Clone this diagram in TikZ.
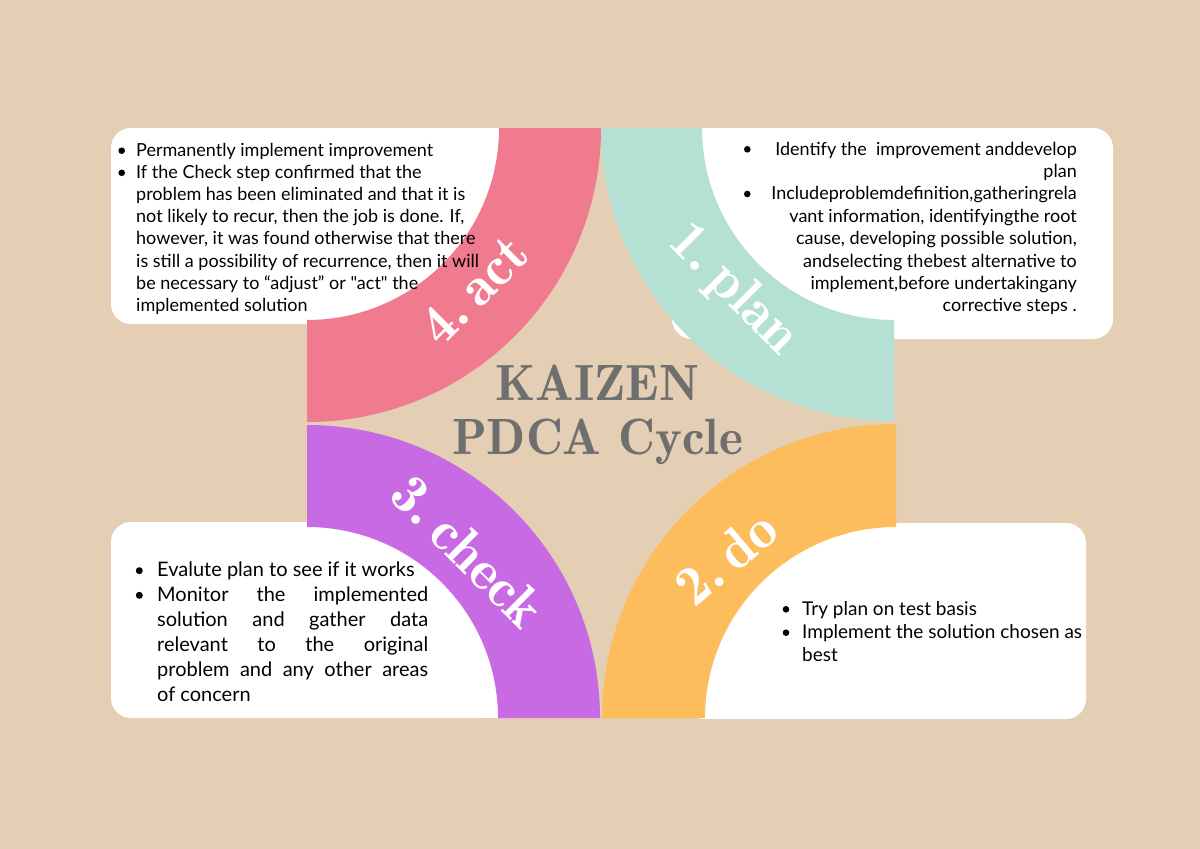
\documentclass[tikz,border=0pt]{standalone}
\usepackage{fontspec}
\newfontfamily\lato{Lato}
\newfontfamily\demi{lmromandemi10-regular.otf}
\definecolor{bg}{HTML}{E4CEB4}
\definecolor{actc}{HTML}{F07B8E}
\definecolor{planc}{HTML}{B4E1D4}
\definecolor{checkc}{HTML}{C86AE4}
\definecolor{doc}{HTML}{FDBD5C}
\definecolor{titlec}{HTML}{6F6F6F}
\begin{document}
\begin{tikzpicture}[x=1pt,y=-1pt,
  titletxt/.style={font=\demi\fontsize{51}{54}\selectfont, text=titlec, inner sep=0, anchor=base},
  blabel/.style={font=\demi\fontsize{56}{56}\selectfont, text=white, inner sep=0},
  acttxt/.style={font=\lato\fontsize{18}{22}\selectfont, anchor=base west, inner sep=0},
  plantxt/.style={font=\lato\fontsize{18}{22}\selectfont, anchor=base east, inner sep=0},
  checktxt/.style={font=\lato\fontsize{20}{25}\selectfont, anchor=base west, inner sep=0},
  dotxt/.style={font=\lato\fontsize{19}{23}\selectfont, anchor=base west, inner sep=0},
  whitebox/.style={fill=white, rounded corners=20pt},
  bul/.style={fill=black}]
\useasboundingbox (0,0) rectangle (1200,849);
\fill[bg] (0,0) rectangle (1200,849);
% white text boxes
\fill[whitebox] (111,128) rectangle (500,324);
\fill[white] (300,128) rectangle (520,324);
\fill[whitebox] (672,128) rectangle (1113,339);
\fill[whitebox] (111,522) rectangle (500,718);
\fill[white] (300,522) rectangle (520,718);
\fill[whitebox] (700,523) rectangle (1086,719);
\fill[white] (700,523) rectangle (900,719);
% act band
\fill[actc] (601,128) arc[start angle=0,end angle=90,radius=294]
  -- (307,320) arc[start angle=90,end angle=0,radius=192] -- cycle;
% plan band
\fill[planc] (601,128) arc[start angle=180,end angle=90,radius=293]
  -- (894,320) arc[start angle=90,end angle=180,radius=192] -- cycle;
% check band
\fill[checkc] (307,425) arc[start angle=270,end angle=360,radius=293]
  -- (498,718) arc[start angle=360,end angle=270,radius=191] -- cycle;
% do band
\fill[doc] (602,718) arc[start angle=180,end angle=270,radius=294]
  -- (896,527) arc[start angle=270,end angle=180,radius=191] -- cycle;
% title
\node[titletxt] (kaizen) at (597.5,400) {KAIZEN};
\node[titletxt] (pdca) at (597.5,454) {PDCA Cycle};
% band labels
\node[blabel, rotate=45] (lact) at (474,290) {4.\hspace{0.2em}act};
\node[blabel, rotate=-45] (lplan) at (733,290) {1.\hspace{0.2em}plan};
\node[blabel, rotate=-45] (lcheck) at (468,551) {3.\hspace{0.2em}check};
\node[blabel, rotate=40] (ldo) at (726,557) {2.\hspace{0.2em}do};
% act text
\foreach \t [count=\i] in {{Permanently implement improvement},
  {If the Check step confirmed that the},
  {problem has been eliminated and that it is},
  {not likely to recur, then the job is done. If,},
  {however, it was found otherwise that there},
  {is still a possibility of recurrence, then it will},
  {be necessary to “adjust” or "act" the},
  {implemented solution}}
  \node[acttxt] (act-\i) at (136,{156.5+22.1*(\i-1)}) {\t};
\fill[bul] (121.7,150.7) circle (3.3);
\fill[bul] (121.7,172.8) circle (3.3);
% plan text
\foreach \t [count=\i] in {{Identify the\ \ improvement anddevelop},
  {plan},
  {Includeproblemdefinition,gatheringrela},
  {vant information, identifyingthe root},
  {cause, developing possible solution,},
  {andselecting thebest alternative to},
  {implement,before undertakingany},
  {corrective steps .}}
  \node[plantxt] (plan-\i) at (1077,{155+22.4*(\i-1)}) {\t};
\fill[bul] (747.3,149.3) circle (3.3);
\fill[bul] (747.3,194) circle (3.3);
% check text
\foreach \t [count=\i] in {{Evalute plan to see if it works},
  {\makebox[271pt][s]{Monitor the implemented}},
  {\makebox[271pt][s]{solution and gather data}},
  {\makebox[271pt][s]{relevant to the original}},
  {\makebox[271pt][s]{problem and any other areas}},
  {of concern}}
  \node[checktxt] (check-\i) at (157,{576.7+24.9*(\i-1)}) {\t};
\fill[bul] (139.3,570.7) circle (3.5);
\fill[bul] (139.3,595.3) circle (3.5);
% do text
\foreach \t [count=\i] in {{Try plan on test basis},
  {Implement the solution chosen as},
  {best}}
  \node[dotxt] (do-\i) at (802,{615.7+23*(\i-1)}) {\t};
\fill[bul] (786,609.3) circle (3.3);
\fill[bul] (786,632.7) circle (3.3);
\end{tikzpicture}
\end{document}
